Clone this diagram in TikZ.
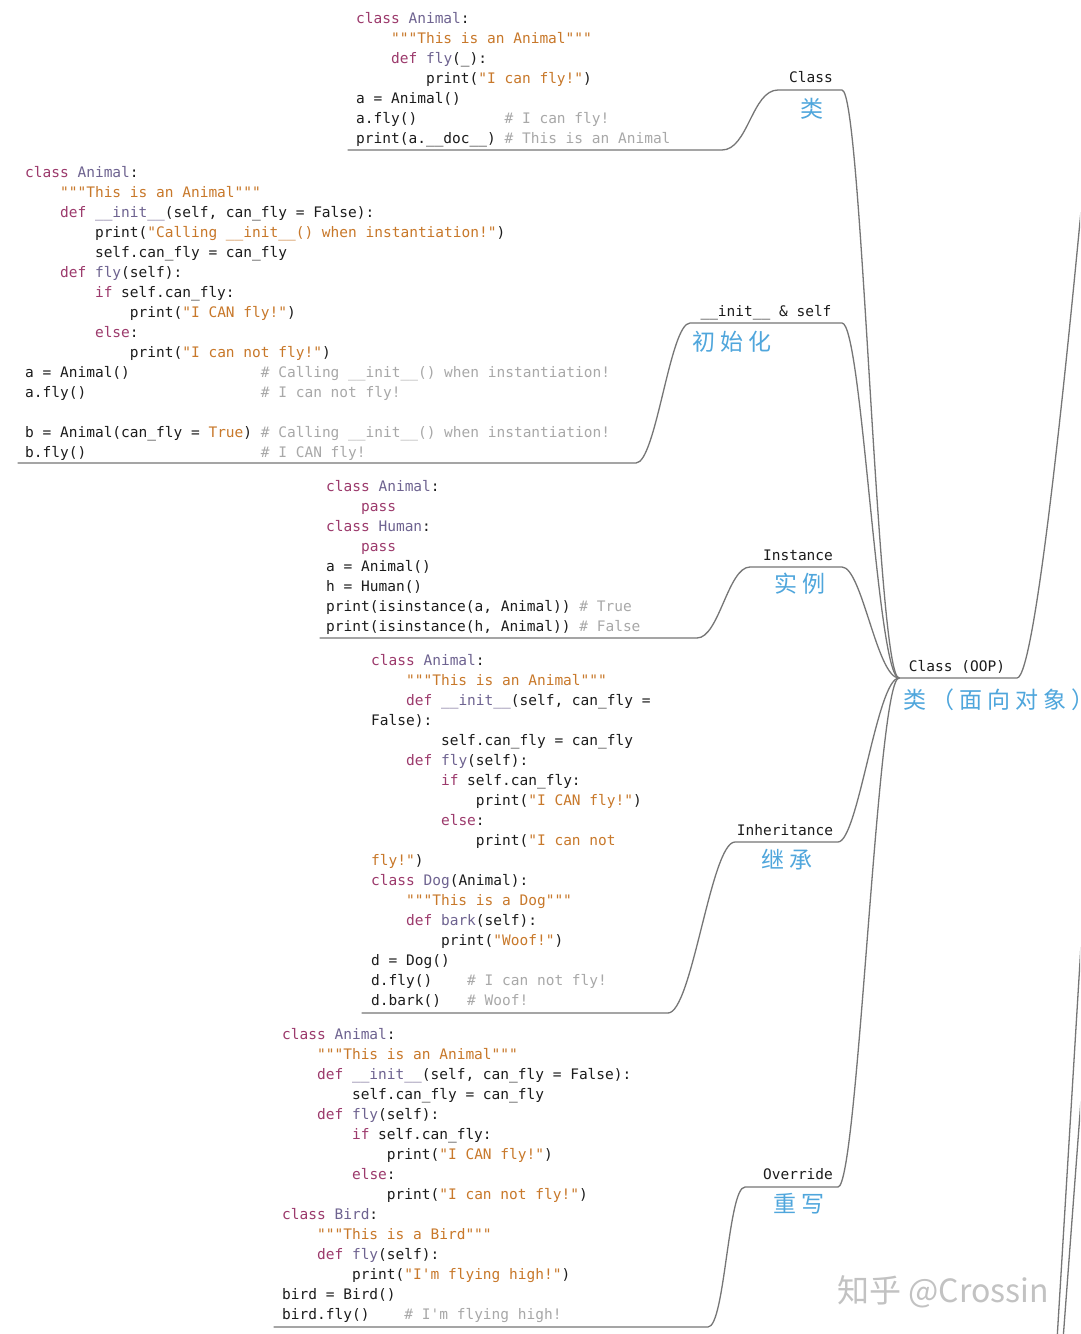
\documentclass[tikz,border=0pt]{standalone}
\usepackage{fontspec}
\usepackage{xcolor}
\newfontfamily\codefont{DejaVu Sans Mono}
\newfontfamily\cjkfont[LetterSpace=22]{Noto Sans CJK SC}
\newfontfamily\wmfont{Noto Sans CJK SC}

\definecolor{ink}{HTML}{1C1C1C}
\definecolor{kwcol}{HTML}{9C3A6C}
\definecolor{nmcol}{HTML}{6E6390}
\definecolor{strcol}{HTML}{C8782A}
\definecolor{cmtcol}{HTML}{A8A8A8}
\definecolor{cnblue}{HTML}{4FA6DC}
\definecolor{linecol}{HTML}{767676}
\definecolor{wmgray}{HTML}{C2C2C2}

% code helpers
\newlength\cw
\setlength\cw{8.73pt}
\newcommand\sps[1]{\hspace*{#1\cw}}
\newcommand\fst{\rule{0pt}{14pt}}
\newcommand\kw[1]{\textcolor{kwcol}{#1}}
\newcommand\nm[1]{\textcolor{nmcol}{#1}}
\newcommand\strg[1]{\textcolor{strcol}{#1}}
\newcommand\cmt[1]{\textcolor{cmtcol}{#1}}

\begin{document}
\begin{tikzpicture}[x=1pt, y=-1pt,
    code/.style={anchor=north west, inner sep=0pt, align=left, text=ink,
      font=\codefont\fontsize{14.5}{20}\selectfont},
    branch/.style={anchor=base, inner sep=0pt, text=ink,
      font=\codefont\fontsize{14.5}{18}\selectfont},
    cnlabel/.style={anchor=base, inner sep=0pt, text=cnblue,
      font=\cjkfont\fontsize{23}{26}\selectfont},
    link/.style={draw=linecol, line width=1.3pt, line cap=round, line join=round}]

    \clip (0,0) rectangle (1080,1334);
    \fill[white] (0,0) rectangle (1080,1334);

    % Central topic
    \coordinate (hub) at (899,678);
    \coordinate (rootR) at (1017,678);
    \coordinate (rootUp) at (1083,190);
    \node[branch] (lblRoot) at (957,671) {Class (OOP)};
    \node[cnlabel, anchor=base west] (cnRoot) at (903,708) {类（面向对象）};
    \draw[link] (hub) -- (rootR) .. controls +(18,0) and +(-17,180) .. (rootUp);

    % Neighbour connectors at the right edge
    \coordinate (outA1) at (1081,945);
    \coordinate (outA2) at (1057,1340);
    \coordinate (outB1) at (1081,1100);
    \coordinate (outB2) at (1063,1340);
    \draw[link] (outA1) -- (outA2);
    \draw[link] (outB1) -- (outB2);

    % Class
    \coordinate (clsCode) at (348,150);
    \coordinate (clsFoot) at (722,150);
    \coordinate (clsL) at (778,90);
    \coordinate (clsR) at (842,90);
    \node[branch] (lblClass) at (811,82) {Class};
    \node[cnlabel] (cnClass) at (812,117) {类};
    \node[code] (codeClass) at (356,9) {\fst\kw{class} \nm{Animal}:\\
      \sps4\strg{"""This is an Animal"""}\\
      \sps4\kw{def} \nm{fly}(\_):\\
      \sps8print(\strg{"I can fly!"})\\
      a = Animal()\\
      a.fly()\sps{10}\cmt{\# I can fly!}\\
      print(a.\_\_doc\_\_) \cmt{\# This is an Animal}};
    \draw[link] (clsCode) -- (clsFoot) .. controls +(26,0) and +(-26,0) .. (clsL)
      -- (clsR) .. controls +(20,0) and +(-22,0) .. (hub);

    % __init__ & self
    \coordinate (iniCode) at (18,463);
    \coordinate (iniFoot) at (636,463);
    \coordinate (iniL) at (690,323);
    \coordinate (iniR) at (842,323);
    \node[branch] (lblInit) at (766,316) {\_\_init\_\_ \& self};
    \node[cnlabel, anchor=base west] (cnInit) at (692,350) {初始化};
    \node[code] (codeInit) at (25,163) {\fst\kw{class} \nm{Animal}:\\
      \sps4\strg{"""This is an Animal"""}\\
      \sps4\kw{def} \nm{\_\_init\_\_}(self, can\_fly = False):\\
      \sps8print(\strg{"Calling \_\_init\_\_() when instantiation!"})\\
      \sps8self.can\_fly = can\_fly\\
      \sps4\kw{def} \nm{fly}(self):\\
      \sps8\kw{if} self.can\_fly:\\
      \sps{12}print(\strg{"I CAN fly!"})\\
      \sps8\kw{else}:\\
      \sps{12}print(\strg{"I can not fly!"})\\
      a = Animal()\sps{15}\cmt{\# Calling \_\_init\_\_() when instantiation!}\\
      a.fly()\sps{20}\cmt{\# I can not fly!}\\
      \mbox{}\\
      b = Animal(can\_fly = \strg{True}) \cmt{\# Calling \_\_init\_\_() when instantiation!}\\
      b.fly()\sps{20}\cmt{\# I CAN fly!}};
    \draw[link] (iniCode) -- (iniFoot) .. controls +(20,0) and +(-20,0) .. (iniL)
      -- (iniR) .. controls +(20,0) and +(-22,0) .. (hub);

    % Instance
    \coordinate (insCode) at (320,638);
    \coordinate (insFoot) at (697,638);
    \coordinate (insL) at (750,567);
    \coordinate (insR) at (842,567);
    \node[branch] (lblInst) at (798,560) {Instance};
    \node[cnlabel] (cnInst) at (800,592) {实例};
    \node[code] (codeInst) at (326,477) {\fst\kw{class} \nm{Animal}:\\
      \sps4\kw{pass}\\
      \kw{class} \nm{Human}:\\
      \sps4\kw{pass}\\
      a = Animal()\\
      h = Human()\\
      print(isinstance(a, Animal)) \cmt{\# True}\\
      print(isinstance(h, Animal)) \cmt{\# False}};
    \draw[link] (insCode) -- (insFoot) .. controls +(22,0) and +(-22,0) .. (insL)
      -- (insR) .. controls +(20,0) and +(-22,0) .. (hub);

    % Inheritance
    \coordinate (inhCode) at (362,1013);
    \coordinate (inhFoot) at (668,1013);
    \coordinate (inhL) at (735,842);
    \coordinate (inhR) at (838,842);
    \node[branch] (lblInh) at (785,835) {Inheritance};
    \node[cnlabel] (cnInh) at (787,868) {继承};
    \node[code] (codeInh) at (371,651) {\fst\kw{class} \nm{Animal}:\\
      \sps4\strg{"""This is an Animal"""}\\
      \sps4\kw{def} \nm{\_\_init\_\_}(self, can\_fly =\\
      False):\\
      \sps8self.can\_fly = can\_fly\\
      \sps4\kw{def} \nm{fly}(self):\\
      \sps8\kw{if} self.can\_fly:\\
      \sps{12}print(\strg{"I CAN fly!"})\\
      \sps8\kw{else}:\\
      \sps{12}print(\strg{"I can not}\\
      \strg{fly!"})\\
      \kw{class} \nm{Dog}(Animal):\\
      \sps4\strg{"""This is a Dog"""}\\
      \sps4\kw{def} \nm{bark}(self):\\
      \sps8print(\strg{"Woof!"})\\
      d = Dog()\\
      d.fly()\sps4\cmt{\# I can not fly!}\\
      d.bark()\sps3\cmt{\# Woof!}};
    \draw[link] (inhCode) -- (inhFoot) .. controls +(24,0) and +(-24,0) .. (inhL)
      -- (inhR) .. controls +(20,0) and +(-22,0) .. (hub);

    % Override
    \coordinate (ovrCode) at (274,1327);
    \coordinate (ovrFoot) at (708,1327);
    \coordinate (ovrL) at (745,1187);
    \coordinate (ovrR) at (838,1187);
    \node[branch] (lblOvr) at (798,1179) {Override};
    \node[cnlabel] (cnOvr) at (799,1212) {重写};
    \node[code] (codeOvr) at (282,1025) {\fst\kw{class} \nm{Animal}:\\
      \sps4\strg{"""This is an Animal"""}\\
      \sps4\kw{def} \nm{\_\_init\_\_}(self, can\_fly = False):\\
      \sps8self.can\_fly = can\_fly\\
      \sps4\kw{def} \nm{fly}(self):\\
      \sps8\kw{if} self.can\_fly:\\
      \sps{12}print(\strg{"I CAN fly!"})\\
      \sps8\kw{else}:\\
      \sps{12}print(\strg{"I can not fly!"})\\
      \kw{class} \nm{Bird}:\\
      \sps4\strg{"""This is a Bird"""}\\
      \sps4\kw{def} \nm{fly}(self):\\
      \sps8print(\strg{"I\textquotesingle m flying high!"})\\
      bird = Bird()\\
      bird.fly()\sps4\cmt{\# I\textquotesingle m flying high!}};
    \draw[link] (ovrCode) -- (ovrFoot) .. controls +(17,0) and +(-17,0) .. (ovrL)
      -- (ovrR) .. controls +(20,0) and +(-22,0) .. (hub);

    % Watermark
    \node[anchor=base west, inner sep=0pt, text=wmgray,
      font=\wmfont\fontsize{32}{34}\selectfont] (mark) at (837,1302) {知乎 @Crossin};
\end{tikzpicture}
\end{document}
